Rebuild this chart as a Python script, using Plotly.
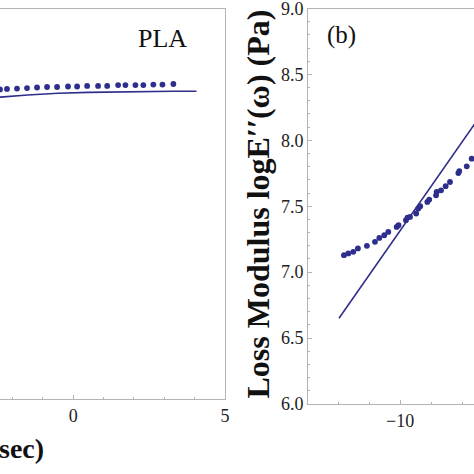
import plotly.graph_objects as go

# ---- data: left panel (PLA) ----
left_dot_x = [-2.41, -2.18, -1.85, -1.52, -1.19, -0.86, -0.53, -0.17, 0.13, 0.46,
              0.82, 1.12, 1.48, 1.72, 2.05, 2.31, 2.64, 2.94, 3.30]
left_dot_y = [9.381, 9.385, 9.388, 9.392, 9.396, 9.400, 9.400, 9.404, 9.404, 9.408,
              9.408, 9.408, 9.415, 9.415, 9.415, 9.415, 9.419, 9.419, 9.423]
left_line_x = [-3.0, -2.4, -1.5, -0.5, 0.5, 1.5, 2.5, 3.3, 4.06]
left_line_y = [9.300, 9.322, 9.338, 9.352, 9.359, 9.363, 9.366, 9.367, 9.367]

# ---- data: right panel (b) loss modulus ----
right_dot_x = [-11.81, -11.67, -11.51, -11.36, -11.07, -10.81, -10.67, -10.51, -10.38,
               -10.11, -10.05, -9.81, -9.76, -9.68, -9.48, -9.41, -9.35, -9.12, -9.06,
               -8.84, -8.82, -8.68, -8.53, -8.39, -8.12, -8.09, -7.85, -7.69, -7.50]
right_dot_y = [7.129, 7.142, 7.154, 7.180, 7.200, 7.230, 7.260, 7.280, 7.305,
               7.343, 7.356, 7.394, 7.414, 7.419, 7.445, 7.483, 7.500, 7.533, 7.551,
               7.583, 7.608, 7.621, 7.652, 7.684, 7.752, 7.767, 7.803, 7.861, 7.900]
right_line_x = [-11.97, -11.0, -10.0, -9.0, -8.0, -7.0]
right_line_y = [6.650, 6.977, 7.314, 7.651, 7.988, 8.325]

left_xticks = [-5, 0, 5]
right_xticks = [-10, -5]
right_yticks = [6.0, 6.5, 7.0, 7.5, 8.0, 8.5, 9.0]

NAVY = "#2e2e8c"
AXC = "#b4b4b4"
FONT = "Liberation Serif, Times New Roman, serif"

fig = go.Figure()
fig.add_trace(go.Scatter(x=left_line_x, y=left_line_y, mode="lines",
                         line=dict(color=NAVY, width=1.6), xaxis="x", yaxis="y",
                         showlegend=False))
fig.add_trace(go.Scatter(x=left_dot_x, y=left_dot_y, mode="markers",
                         marker=dict(color=NAVY, size=5.8), xaxis="x", yaxis="y",
                         showlegend=False))
fig.add_trace(go.Scatter(x=right_line_x, y=right_line_y, mode="lines",
                         line=dict(color=NAVY, width=1.6), xaxis="x2", yaxis="y2",
                         showlegend=False))
fig.add_trace(go.Scatter(x=right_dot_x, y=right_dot_y, mode="markers",
                         marker=dict(color=NAVY, size=5.8), xaxis="x2", yaxis="y2",
                         showlegend=False))


def ax(**kw):
    base = dict(showgrid=False, zeroline=False, showline=True, linecolor=AXC,
                linewidth=1, mirror=True, ticks="inside", ticklen=4, tickcolor=AXC,
                automargin=False, ticklabeloverflow="allow",
                tickfont=dict(family=FONT, size=18, color="#222"))
    base.update(kw)
    return base


fig.update_layout(
    template="none",
    width=474, height=474, autosize=False,
    margin=dict(l=0, r=0, t=0, b=0, pad=0),
    paper_bgcolor="white", plot_bgcolor="white",
    xaxis=ax(domain=[0, 225 / 474], range=[-2.41, 5.0], tickvals=left_xticks,
             minor=dict(dtick=1, tick0=0, ticks="inside", ticklen=2, tickcolor=AXC),
             anchor="y"),
    yaxis=ax(domain=[1 - 399 / 474, 1 - 9 / 474], range=[7.0, 10.0],
             showticklabels=False, ticks="", anchor="x"),
    xaxis2=ax(domain=[308 / 474, 1.0], range=[-12.97, -7.615], tickvals=right_xticks,
              minor=dict(dtick=1, tick0=0, ticks="inside", ticklen=2, tickcolor=AXC),
              anchor="y2"),
    yaxis2=ax(domain=[1 - 404 / 474, 1 - 8.5 / 474], range=[6.0, 9.0],
              tickvals=right_yticks, ticktext=[f"{v:.1f}" for v in right_yticks],
              minor=dict(dtick=0.1, ticks="inside", ticklen=2, tickcolor=AXC),
              anchor="x2"),
    annotations=[
        dict(text="PLA", x=162 / 474, y=1 - 38 / 474, xref="paper", yref="paper",
             showarrow=False, font=dict(family=FONT, size=26, color="#111"),
             xanchor="center", yanchor="middle"),
        dict(text="(b)", x=341 / 474, y=1 - 35 / 474, xref="paper", yref="paper",
             showarrow=False, font=dict(family=FONT, size=25, color="#111"),
             xanchor="center", yanchor="middle"),
        dict(text="<b>Loss Modulus logE′′(ω) (Pa)</b>", x=257.5 / 474, y=1 - 204 / 474,
             xref="paper", yref="paper", showarrow=False, textangle=-90,
             font=dict(family=FONT, size=32, color="#111"),
             xanchor="center", yanchor="middle"),
        dict(text="<b>sec)</b>", x=46 / 474, y=1 - 448 / 474, xref="paper", yref="paper",
             showarrow=False, font=dict(family=FONT, size=28, color="#111"),
             xanchor="right", yanchor="middle"),
    ],
)

fig.write_html("out.html")
